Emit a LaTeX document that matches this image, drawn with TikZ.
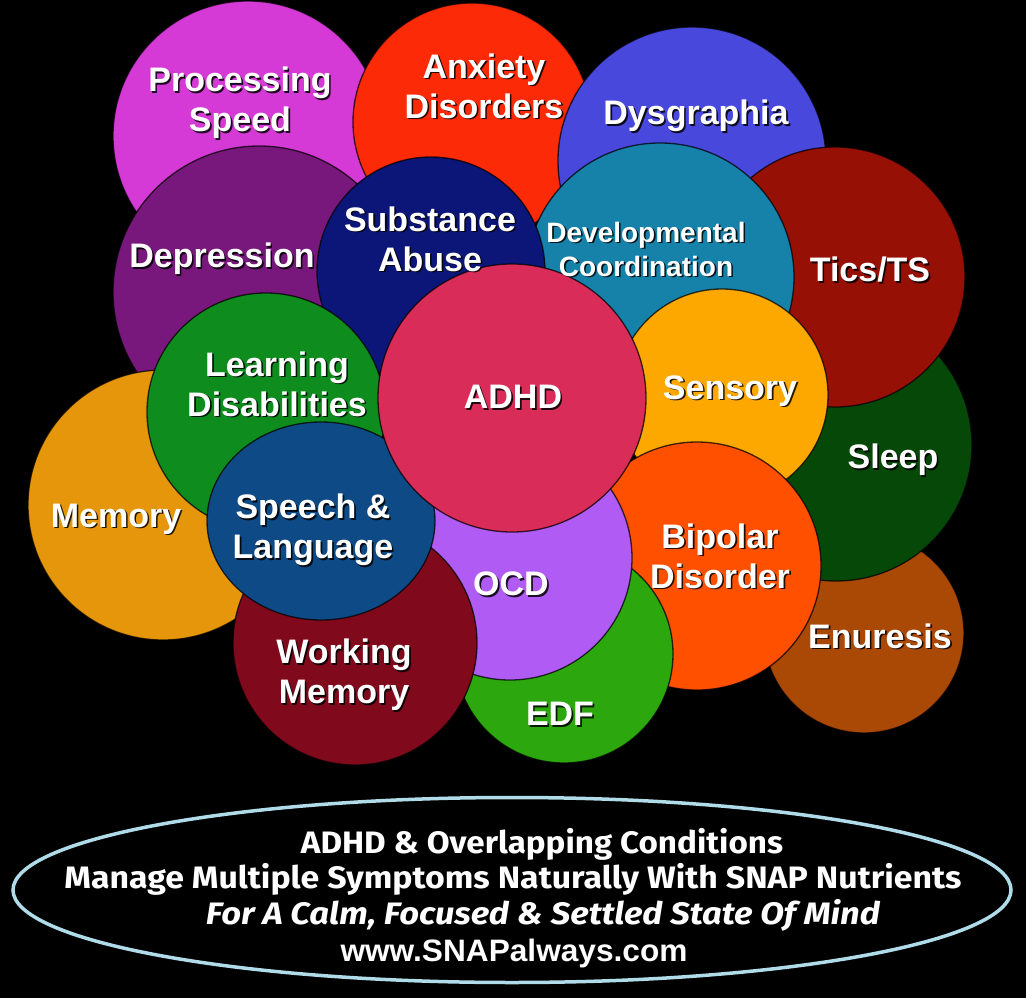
\documentclass[tikz,border=0pt]{standalone}
\usepackage{fontspec}
\usepackage{graphicx}
\setmainfont{Liberation Sans}
\newfontfamily\bannerfont{Fira Sans}
\usetikzlibrary{shapes.geometric}
\definecolor{cProc}{RGB}{214,58,214}
\definecolor{cAnx}{RGB}{252,42,6}
\definecolor{cDys}{RGB}{72,72,220}
\definecolor{cDep}{RGB}{120,24,124}
\definecolor{cSub}{RGB}{12,22,120}
\definecolor{cDev}{RGB}{22,130,170}
\definecolor{cTics}{RGB}{150,16,6}
\definecolor{cSleep}{RGB}{6,72,8}
\definecolor{cEnu}{RGB}{170,72,6}
\definecolor{cSens}{RGB}{252,168,0}
\definecolor{cBip}{RGB}{255,80,0}
\definecolor{cADHD}{RGB}{218,44,88}
\definecolor{cOCD}{RGB}{176,92,244}
\definecolor{cEDF}{RGB}{44,168,14}
\definecolor{cWM}{RGB}{128,10,28}
\definecolor{cSpeech}{RGB}{14,74,134}
\definecolor{cLD}{RGB}{14,140,30}
\definecolor{cMem}{RGB}{230,150,10}
\definecolor{cBanner}{RGB}{176,220,234}
\newcommand\clabel[4]{%
  \node[lblsh,#4] (#1s) at (#2) {#3};
  \node[lbl,#4] (#1) at (#2) {#3};}
\begin{document}
\begin{tikzpicture}[x=1pt,y=-1pt,
  disc/.style={circle, draw=black, draw opacity=0.75, line width=1.3pt, inner sep=0pt, minimum size=#1},
  lbl/.style={text=white, align=center, inner sep=0pt, font=\bfseries\fontsize{34}{40}\selectfont},
  lblsh/.style={lbl, text=black, text opacity=0.85, xshift=1.6pt, yshift=-1.6pt},
  small/.style={font=\bfseries\fontsize{28}{34}\selectfont},
  bannertext/.style={text=white, inner sep=0pt, anchor=base, font=\bannerfont\bfseries\fontsize{31}{34}\selectfont}]
\fill[black] (0,0) rectangle (1026,998);
\useasboundingbox (0,0) rectangle (1026,998);
% circles, back to front
\node[disc=270pt, fill=cProc] (proc) at (248,136) {};
\node[disc=238pt, fill=cAnx] (anx) at (472,122) {};
\node[disc=268pt, fill=cDys] (dys) at (692,161) {};
\node[disc=292pt, fill=cDep] (dep) at (259,292) {};
\node[disc=200pt, fill=cEnu] (enu) at (864,633) {};
\node[disc=272pt, fill=cSleep] (sleep) at (836,445) {};
\node[disc=260pt, fill=cTics] (tics) at (835,277) {};
\node[disc=268pt, fill=cDev] (dev) at (660,277) {};
\node[disc=228pt, fill=cSub] (sub) at (431,271) {};
\node[disc=212pt, fill=cSens] (sens) at (722,395) {};
\node[disc=270pt, fill=cMem] (mem) at (163,505) {};
\node[disc=238pt, fill=cLD] (ld) at (266,412) {};
\node[disc=248pt, fill=cBip] (bip) at (697,566) {};
\node[disc=218pt, fill=cEDF] (edf) at (564,654) {};
\node[disc=244pt, fill=cOCD] (ocd) at (510,558) {};
\node[disc=244pt, fill=cWM] (wm) at (355,643) {};
\node[ellipse, draw=black, draw opacity=0.75, line width=1.3pt, inner sep=0pt,
      minimum width=228pt, minimum height=198pt, fill=cSpeech] (speech) at (321,521) {};
\node[disc=268pt, fill=cADHD] (adhd) at (512,398) {};
% labels
\clabel{tproc}{240,103}{Processing\\Speed}{}
\clabel{tanx}{484,86}{Anxiety\\Disorders}{}
\clabel{tdys}{696,116}{Dysgraphia}{}
\clabel{tdep}{222,259}{Depression}{}
\clabel{tsub}{430,239}{Substance\\Abuse}{}
\clabel{tdev}{646,249}{Developmental\\Coordination}{small}
\clabel{ttics}{870,270}{Tics/TS}{}
\clabel{tld}{277,384}{Learning\\Disabilities}{}
\clabel{tadhd}{513,397}{ADHD}{}
\clabel{tsens}{730,391}{Sensory}{}
\clabel{tsleep}{893,460}{Sleep}{}
\clabel{tmem}{116,519}{Memory}{}
\clabel{tspeech}{313,530}{Speech \&\\Language}{}
\clabel{tocd}{511,584}{OCD}{}
\clabel{tbip}{720,556}{Bipolar\\Disorder}{}
\clabel{tenu}{880,636}{Enuresis}{}
\clabel{twm}{344,675}{Working\\Memory}{}
\clabel{tedf}{560,714}{EDF}{}
% banner
\node[ellipse, draw=cBanner, line width=3.5pt, fill=black, inner sep=0pt,
      minimum width=998pt, minimum height=185pt] (banner) at (512,890) {};
\node[bannertext] (b1) at (542,853) {\resizebox{482pt}{\height}{ADHD \& Overlapping Conditions}};
\node[bannertext] (b2) at (513,888) {\resizebox{897pt}{\height}{Manage Multiple Symptoms Naturally With SNAP Nutrients}};
\node[bannertext] (b3) at (543,924) {\resizebox{674pt}{\height}{\itshape For A Calm, Focused \& Settled State Of Mind}};
\node[bannertext, font=\bfseries\fontsize{31}{34}\selectfont] (b4) at (514,961) {\resizebox{347pt}{\height}{www.SNAPalways.com}};
\end{tikzpicture}
\end{document}
